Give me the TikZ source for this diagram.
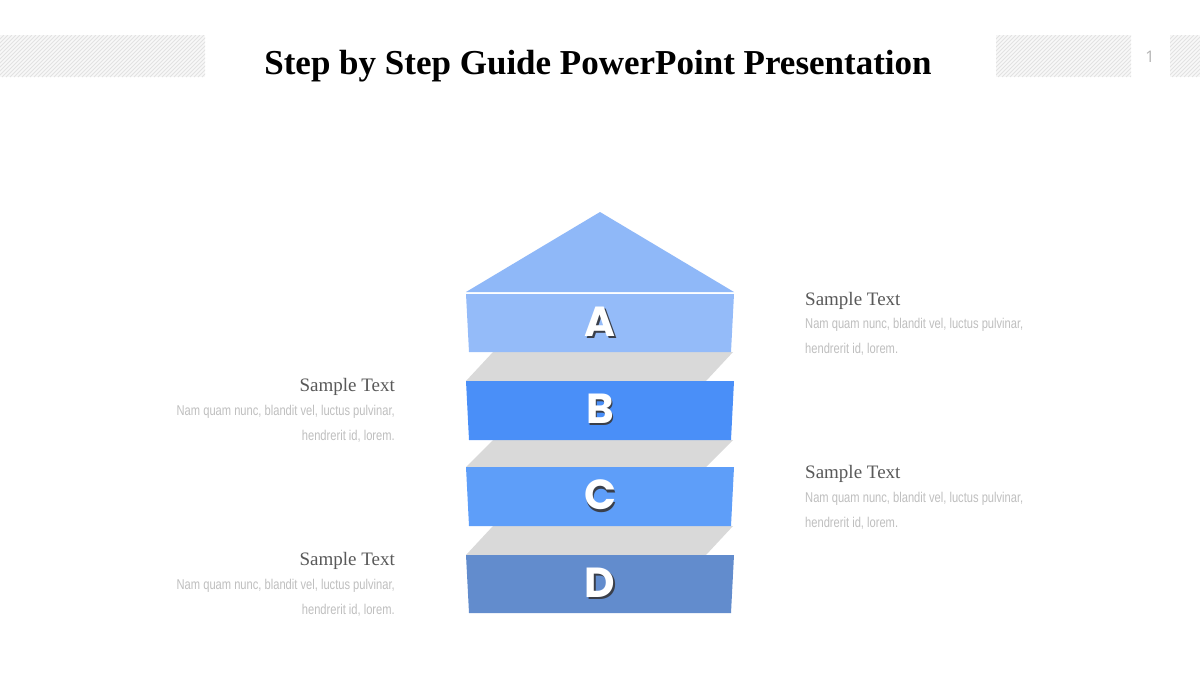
\documentclass[tikz,border=0pt]{standalone}
\usepackage{fontspec}
\setmainfont{Liberation Serif}
\newfontfamily\letterfont{Poppins}
\newfontfamily\narrowfont[FakeStretch=0.785]{Liberation Sans}
\newfontfamily\numfont{Open Sans}
\definecolor{triC}{HTML}{8FB8F8}
\definecolor{aC}{HTML}{94BBF9}
\definecolor{bC}{HTML}{4A8FF8}
\definecolor{cC}{HTML}{5E9EF9}
\definecolor{dC}{HTML}{628CCD}
\definecolor{grayband}{HTML}{D9D9D9}
\definecolor{hatchbg}{HTML}{F8F8F8}
\definecolor{hatchln}{HTML}{E2E2E2}
\definecolor{headC}{HTML}{595959}
\definecolor{subC}{HTML}{BFBFBF}
\definecolor{shadowC}{HTML}{3A3F4A}
\newcommand{\shadowletter}[1]{\makebox[0pt][l]{\hspace{1.5pt}\raisebox{-2.5pt}{\textcolor{shadowC}{#1}}}#1}
\begin{document}
\begin{tikzpicture}[x=1pt,y=-1pt,
  letter/.style={font=\letterfont\fontsize{42}{42}\selectfont\bfseries, text=white, inner sep=0pt},
  headtxt/.style={font=\fontsize{19}{19}\selectfont, text=headC, inner sep=0pt},
  subtxt/.style={font=\narrowfont\fontsize{14.2}{25}\selectfont, text=subC, inner sep=0pt}
]
\useasboundingbox (0,0) rectangle (1200,675);
\fill[white] (0,0) rectangle (1200,675);

% hatched header blocks
\foreach \xa/\xb in {0/205, 996/1131, 1170/1200}{
  \begin{scope}
    \clip (\xa,35) rectangle (\xb,77);
    \fill[hatchbg] (\xa,35) rectangle (\xb,77);
    \foreach \k in {-50,-46,...,260}{
      \draw[hatchln, line width=0.8pt] (\xa+\k,77) -- (\xa+\k+42,35);
    }
  \end{scope}
}
\node[font=\fontsize{35}{35}\selectfont\bfseries, inner sep=0pt] (title) at (598,66) {Step by Step Guide PowerPoint Presentation};
\node[font=\numfont\fontsize{16}{16}\selectfont, text=subC!80!gray, inner sep=0pt] (pnum) at (1150,57) {1};

% gray connectors
\fill[grayband] (493,352) -- (733,352) -- (706,381) -- (466,381) -- cycle;
\fill[grayband] (493,440) -- (733,440) -- (706,467) -- (466,467) -- cycle;
\fill[grayband] (493,526) -- (733,526) -- (706,555) -- (466,555) -- cycle;

% roof
\fill[triC] (600,212) -- (734,292) -- (466,292) -- cycle;
% bands
\fill[aC] (466,294) -- (734,294) -- (731,352) -- (469,352) -- cycle;
\fill[bC] (466,381) -- (734,381) -- (731,440) -- (469,440) -- cycle;
\fill[cC] (466,467) -- (734,467) -- (731,526) -- (469,526) -- cycle;
\fill[dC] (466,555) -- (734,555) -- (731,613) -- (469,613) -- cycle;

% letters
\node[letter] (la) at (600,323) {\shadowletter{A}};
\node[letter] (lb) at (600,410) {\shadowletter{B}};
\node[letter] (lc) at (600,496) {\shadowletter{C}};
\node[letter] (ld) at (600,584) {\shadowletter{D}};

% texts right
\node[headtxt, anchor=west] (h1) at (805,301) {Sample Text};
\node[subtxt, anchor=north west, align=left] (s1) at (805,318) {Nam quam nunc, blandit vel, luctus pulvinar,\\hendrerit id, lorem.};
\node[headtxt, anchor=west] (h3) at (805,474) {Sample Text};
\node[subtxt, anchor=north west, align=left] (s3) at (805,492) {Nam quam nunc, blandit vel, luctus pulvinar,\\hendrerit id, lorem.};
% texts left
\node[headtxt, anchor=east] (h2) at (395,387) {Sample Text};
\node[subtxt, anchor=north east, align=right] (s2) at (395,405) {Nam quam nunc, blandit vel, luctus pulvinar,\\hendrerit id, lorem.};
\node[headtxt, anchor=east] (h4) at (395,561) {Sample Text};
\node[subtxt, anchor=north east, align=right] (s4) at (395,579) {Nam quam nunc, blandit vel, luctus pulvinar,\\hendrerit id, lorem.};
\end{tikzpicture}
\end{document}
